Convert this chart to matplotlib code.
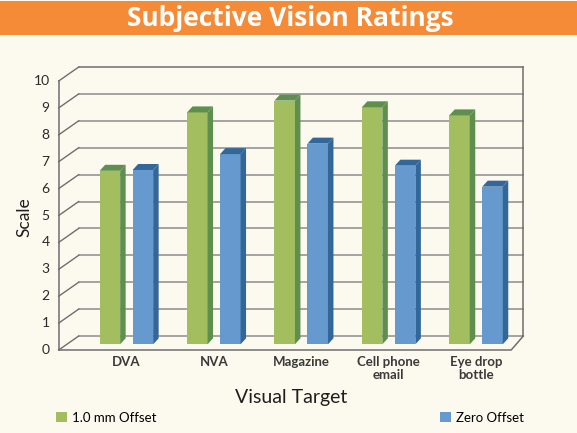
import matplotlib
matplotlib.use("Agg")
import matplotlib.pyplot as plt
from matplotlib.patches import Polygon, Rectangle
import numpy as np

# ---------------- data ----------------
categories = ["DVA", "NVA", "Magazine", "Cell phone\nemail", "Eye drop\nbottle"]
offset_1mm = [6.45, 8.62, 9.06, 8.81, 8.51]
zero_offset = [6.48, 7.07, 7.46, 6.64, 5.86]
series_names = ["1.0 mm Offset", "Zero Offset"]
yticks = list(range(0, 11))
title = "Subjective Vision Ratings"
xlabel = "Visual Target"
ylabel = "Scale"

# ---------------- style ----------------
BG = "#FCFAEF"
ORANGE = "#F58B37"
GREEN = "#A3BE5F"
GREEN_D = "#5F8F4F"
BLUE = "#6699CD"
BLUE_D = "#336699"
GRID = "#8C8C8C"
EDGE = "#6E6E6E"
TXT = "#2A2A2A"
FONT = ["Lato", "DejaVu Sans"]
plt.rcParams["font.family"] = FONT

W, H = 577, 433
fig = plt.figure(figsize=(W / 100, H / 100), dpi=100, facecolor=BG)
ax = fig.add_axes([0, 0, 1, 1])
ax.set_axis_off()
ax.patch.set_visible(False)

# layout: pixel scale of the data axes
X0_PX, X_UNIT = 126.4, 87.4      # x pixel of category 0, pixels per category
Y0_PX, Y_UNIT = 344.3, 26.9      # y pixel (from top) of value 0, pixels per unit
ax.set_xlim(-X0_PX / X_UNIT, (W - X0_PX) / X_UNIT)
yb = -(H - Y0_PX) / Y_UNIT
ax.set_ylim(yb, yb + H / Y_UNIT)

def shift(x, y, dx, dy):
    px, py = ax.transData.transform((x, y))
    return ax.transData.inverted().transform((px + dx, py + dy))

FRONT = (-7.9, -5.7)
BACK = (12.1, 8.3)
xL, xRf, xRb = -0.684, 4.493, 4.403

# ---------------- title banner ----------------
fig.patches.append(Rectangle((0, 1 - 35 / H), 1, 34 / H, transform=fig.transFigure,
                             facecolor=ORANGE, edgecolor="none", zorder=0))
fig.text(290 / W, 1 - 18.5 / H, title, color="white", fontsize=19, fontweight="bold",
         ha="center", va="center", family=["Open Sans", "DejaVu Sans"])

# ---------------- walls / gridlines ----------------
for v in yticks:
    a = shift(xL, v, *BACK); b = shift(xRb, v, *BACK)
    ax.plot([a[0], b[0]], [a[1], b[1]], color=EDGE if v == yticks[-1] else GRID, lw=1.1, zorder=1)
    f = shift(xL, v, *FRONT)
    ax.plot([f[0], a[0]], [f[1], a[1]], color=EDGE, lw=1.0, zorder=1)
    t = shift(xL, v, FRONT[0] - 9, FRONT[1])
    ax.text(t[0], t[1], str(v), ha="right", va="center", fontsize=10, color=TXT)

# front axis
f0 = shift(xL, 0, *FRONT); f10 = shift(xL, yticks[-1], *FRONT)
ax.plot([f0[0], f10[0]], [f0[1], f10[1]], color=EDGE, lw=1.1, zorder=1)
# right back edge
b0 = shift(xRb, 0, *BACK); b10 = shift(xRb, yticks[-1], *BACK)
ax.plot([b0[0], b10[0]], [b0[1], b10[1]], color=EDGE, lw=1.1, zorder=1)
# floor front edge + right diagonal
fr = shift(xRf, 0, *FRONT)
ax.plot([f0[0], fr[0], b0[0]], [f0[1], fr[1], b0[1]], color=EDGE, lw=1.1, zorder=1)

# ---------------- bars ----------------
x = np.arange(len(categories))
bw = 20.5 / X_UNIT
off = 16.5 / X_UNIT
DX, DY = 5.5, 6.0

def bars3d(xpos, vals, front, dark, label):
    cont = ax.bar(xpos, vals, width=bw, color=front, zorder=3, label=label,
                  edgecolor="none")
    for xc, v in zip(xpos, vals):
        xl, xr = xc - bw / 2, xc + bw / 2
        p1 = shift(xr, 0, DX, DY); p2 = shift(xr, v, DX, DY); p3 = shift(xl, v, DX, DY)
        ax.add_patch(Polygon([(xr, 0), (xr, v), p2, p1], closed=True,
                             facecolor=dark, edgecolor="none", zorder=3))
        ax.add_patch(Polygon([(xl, v), (xr, v), p2, p3], closed=True,
                             facecolor=dark, edgecolor="none", zorder=3))
    return cont

bg = bars3d(x - off, offset_1mm, GREEN, GREEN_D, series_names[0])
bb = bars3d(x + off, zero_offset, BLUE, BLUE_D, series_names[1])

# category labels
for i, c in enumerate(categories):
    p = shift(i, 0, 0, -12)
    ax.text(p[0], p[1], c, ha="center", va="top", fontsize=9.5, fontweight="bold",
            color="#3A3A3A", linespacing=1.1, multialignment="center")

fig.text(291 / W, 1 - 398 / H, xlabel, ha="center", va="center", fontsize=14, color="#1E1E1E")
fig.text(24 / W, 1 - 217 / H, ylabel, ha="center", va="center", fontsize=12.5,
         rotation=90, color="#1E1E1E")

# legends
fig.legend([bg], [series_names[0]], loc="center left", bbox_to_anchor=(56 / W, 1 - 417.5 / H),
           frameon=False, handlelength=0.8, handleheight=0.8, handletextpad=0.45,
           borderpad=0, borderaxespad=0, fontsize=9.5)
fig.legend([bb], [series_names[1]], loc="center left", bbox_to_anchor=(440 / W, 1 - 417.5 / H),
           frameon=False, handlelength=0.8, handleheight=0.8, handletextpad=0.45,
           borderpad=0, borderaxespad=0, fontsize=9.5)

fig.savefig("out.png", dpi=100, facecolor=BG)
